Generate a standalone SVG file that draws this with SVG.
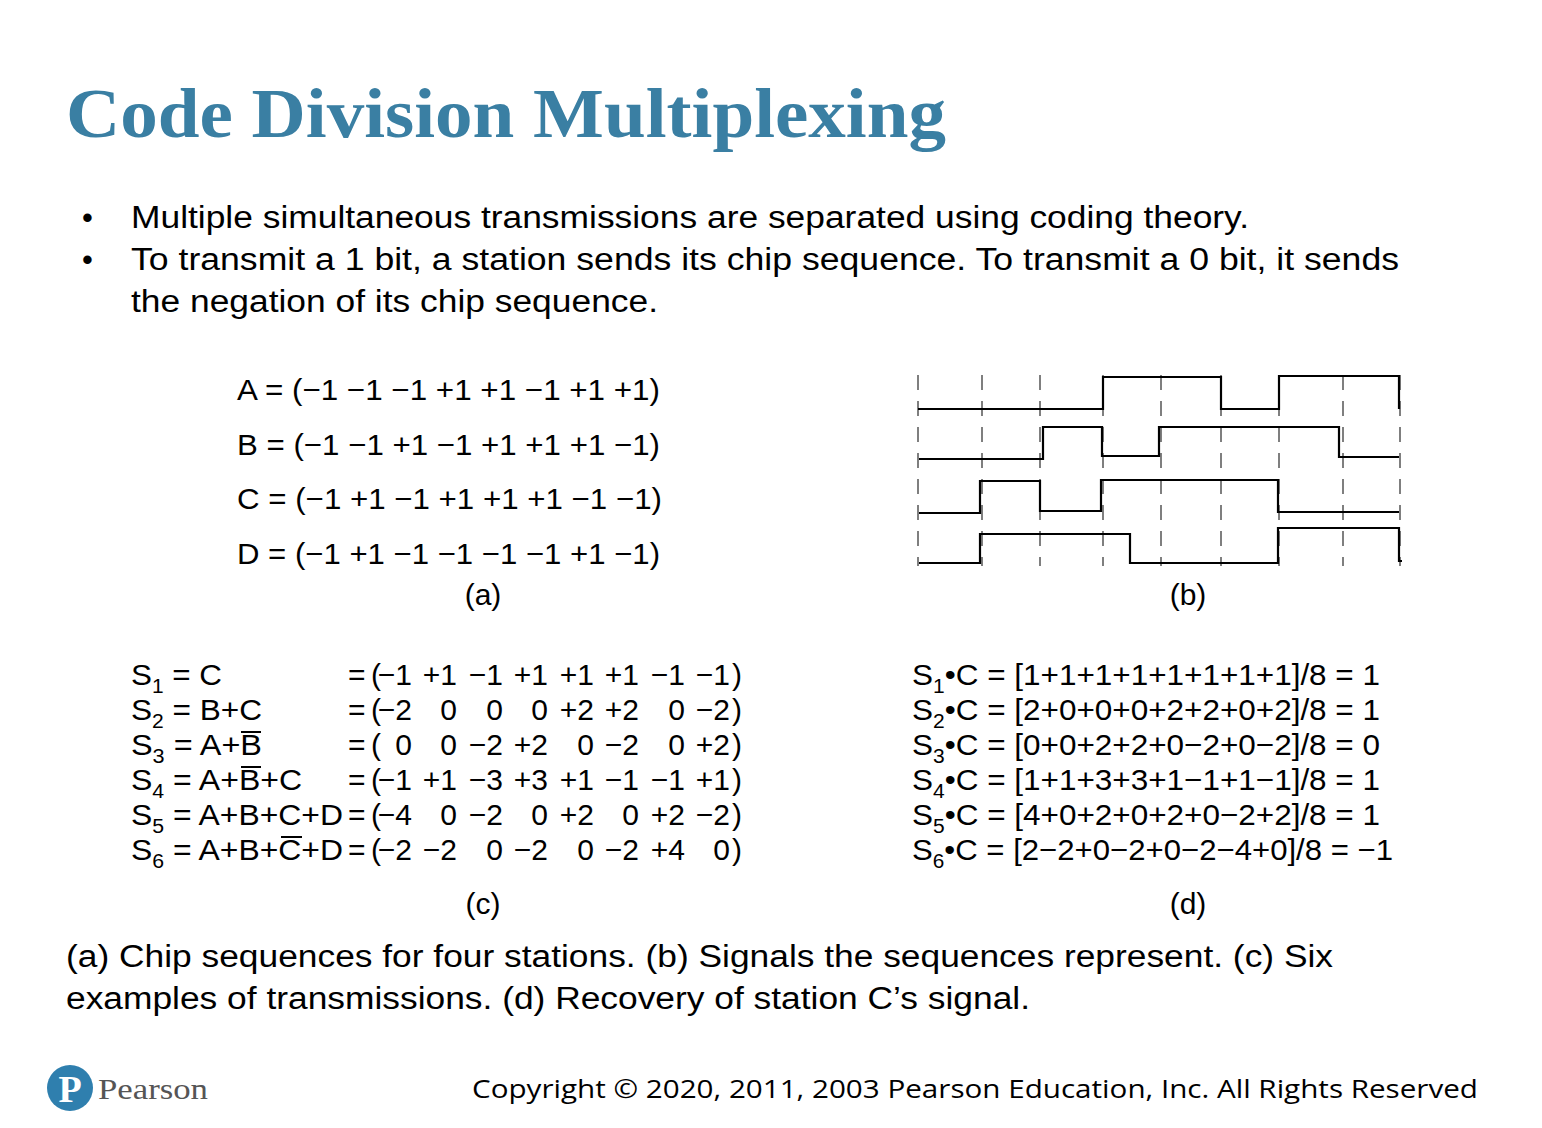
<svg xmlns="http://www.w3.org/2000/svg" width="1542" height="1128" viewBox="0 0 1542 1128">
<style>
.t{font-family:"Liberation Sans",Arial,sans-serif;fill:#000}
.b{font-size:31px}
.e{font-size:30px}
.w{fill:none;stroke:#000;stroke-width:2.2}
.d{stroke:#555;stroke-width:1.5;stroke-dasharray:15 11}
.o{stroke:#000;stroke-width:2}
.v text{text-anchor:end}
</style>
<rect width="1542" height="1128" fill="#fff"/>
<text x="66" y="137" font-family="'Liberation Serif','Times New Roman',serif" font-weight="bold" font-size="70" fill="#3a7fa3" textLength="880" lengthAdjust="spacingAndGlyphs">Code Division Multiplexing</text>
<g id="bullets" class="t b">
<text x="82" y="228">•</text><text x="131" y="228" textLength="1118" lengthAdjust="spacingAndGlyphs">Multiple simultaneous transmissions are separated using coding theory.</text>
<text x="82" y="270">•</text><text x="131" y="270" textLength="1268" lengthAdjust="spacingAndGlyphs">To transmit a 1 bit, a station sends its chip sequence. To transmit a 0 bit, it sends</text>
<text x="131" y="312" textLength="527" lengthAdjust="spacingAndGlyphs">the negation of its chip sequence.</text>
</g>
<g id="a" class="t e">
<text x="237" y="400" textLength="423" lengthAdjust="spacingAndGlyphs">A = (−1 −1 −1 +1 +1 −1 +1 +1)</text>
<text x="237" y="455" textLength="423" lengthAdjust="spacingAndGlyphs">B = (−1 −1 +1 −1 +1 +1 +1 −1)</text>
<text x="237" y="509" textLength="425" lengthAdjust="spacingAndGlyphs">C = (−1 +1 −1 +1 +1 +1 −1 −1)</text>
<text x="237" y="564" textLength="423" lengthAdjust="spacingAndGlyphs">D = (−1 +1 −1 −1 −1 −1 +1 −1)</text>
<text x="483" y="605" text-anchor="middle">(a)</text>
</g>
<g id="b">
<g class="d">
<line x1="918" y1="375" x2="918" y2="566"/><line x1="982" y1="375" x2="982" y2="566"/>
<line x1="1040" y1="375" x2="1040" y2="566"/><line x1="1103" y1="375" x2="1103" y2="566"/>
<line x1="1161" y1="375" x2="1161" y2="566"/><line x1="1221" y1="375" x2="1221" y2="566"/>
<line x1="1279" y1="375" x2="1279" y2="566"/><line x1="1343" y1="375" x2="1343" y2="566"/>
<line x1="1400" y1="375" x2="1400" y2="566"/>
</g>
<polyline class="w" points="918,409 1103,409 1103,377 1221,377 1221,409 1279,409 1279,376 1399,376 1399,409"/>
<polyline class="w" points="919,459 1043,459 1043,427 1102,427 1102,456 1159,456 1159,427 1339,427 1339,457 1399,457"/>
<polyline class="w" points="919,513 980,513 980,481 1040,481 1040,511 1101,511 1101,480 1278,480 1278,512 1399,512"/>
<polyline class="w" points="919,563 980,563 980,534 1130,534 1130,563 1278,563 1278,528 1399,528 1399,561 1402,561"/>
<text class="t e" x="1188" y="605" text-anchor="middle">(b)</text>
</g>
<g id="c" class="t e">
<text x="131" y="685" textLength="91" lengthAdjust="spacingAndGlyphs">S<tspan font-size="20" dy="8">1</tspan><tspan dy="-8"> = C</tspan></text>
<text x="131" y="720" textLength="131" lengthAdjust="spacingAndGlyphs">S<tspan font-size="20" dy="8">2</tspan><tspan dy="-8"> = B+C</tspan></text>
<text x="131" y="755" textLength="131" lengthAdjust="spacingAndGlyphs">S<tspan font-size="20" dy="8">3</tspan><tspan dy="-8"> = A+B</tspan></text>
<text x="131" y="790" textLength="171" lengthAdjust="spacingAndGlyphs">S<tspan font-size="20" dy="8">4</tspan><tspan dy="-8"> = A+B+C</tspan></text>
<text x="131" y="825" textLength="212" lengthAdjust="spacingAndGlyphs">S<tspan font-size="20" dy="8">5</tspan><tspan dy="-8"> = A+B+C+D</tspan></text>
<text x="131" y="860" textLength="212" lengthAdjust="spacingAndGlyphs">S<tspan font-size="20" dy="8">6</tspan><tspan dy="-8"> = A+B+C+D</tspan></text>
<g id="paren">
<text y="685"><tspan x="348">=</tspan><tspan x="371">(</tspan></text>
<text y="720"><tspan x="348">=</tspan><tspan x="371">(</tspan></text>
<text y="755"><tspan x="348">=</tspan><tspan x="371">(</tspan></text>
<text y="790"><tspan x="348">=</tspan><tspan x="371">(</tspan></text>
<text y="825"><tspan x="348">=</tspan><tspan x="371">(</tspan></text>
<text y="860"><tspan x="348">=</tspan><tspan x="371">(</tspan></text>
<text x="732" y="685">)</text><text x="732" y="720">)</text><text x="732" y="755">)</text>
<text x="732" y="790">)</text><text x="732" y="825">)</text><text x="732" y="860">)</text>
</g>
<g class="v">
<text y="685"><tspan x="412">−1</tspan><tspan x="457">+1</tspan><tspan x="503">−1</tspan><tspan x="548">+1</tspan><tspan x="594">+1</tspan><tspan x="639">+1</tspan><tspan x="685">−1</tspan><tspan x="730">−1</tspan></text>
<text y="720"><tspan x="412">−2</tspan><tspan x="457">0</tspan><tspan x="503">0</tspan><tspan x="548">0</tspan><tspan x="594">+2</tspan><tspan x="639">+2</tspan><tspan x="685">0</tspan><tspan x="730">−2</tspan></text>
<text y="755"><tspan x="412">0</tspan><tspan x="457">0</tspan><tspan x="503">−2</tspan><tspan x="548">+2</tspan><tspan x="594">0</tspan><tspan x="639">−2</tspan><tspan x="685">0</tspan><tspan x="730">+2</tspan></text>
<text y="790"><tspan x="412">−1</tspan><tspan x="457">+1</tspan><tspan x="503">−3</tspan><tspan x="548">+3</tspan><tspan x="594">+1</tspan><tspan x="639">−1</tspan><tspan x="685">−1</tspan><tspan x="730">+1</tspan></text>
<text y="825"><tspan x="412">−4</tspan><tspan x="457">0</tspan><tspan x="503">−2</tspan><tspan x="548">0</tspan><tspan x="594">+2</tspan><tspan x="639">0</tspan><tspan x="685">+2</tspan><tspan x="730">−2</tspan></text>
<text y="860"><tspan x="412">−2</tspan><tspan x="457">−2</tspan><tspan x="503">0</tspan><tspan x="548">−2</tspan><tspan x="594">0</tspan><tspan x="639">−2</tspan><tspan x="685">+4</tspan><tspan x="730">0</tspan></text>
</g>
<line class="o" x1="241" y1="732" x2="261" y2="732"/>
<line class="o" x1="241" y1="767" x2="261" y2="767"/>
<line class="o" x1="281" y1="837" x2="302" y2="837"/>
<text x="483" y="914" text-anchor="middle">(c)</text>
</g>
<g id="d" class="t e">
<text x="912" y="685" textLength="468" lengthAdjust="spacingAndGlyphs">S<tspan font-size="20" dy="8">1</tspan><tspan dy="-8">•C = [1+1+1+1+1+1+1+1]/8 = 1</tspan></text>
<text x="912" y="720" textLength="468" lengthAdjust="spacingAndGlyphs">S<tspan font-size="20" dy="8">2</tspan><tspan dy="-8">•C = [2+0+0+0+2+2+0+2]/8 = 1</tspan></text>
<text x="912" y="755" textLength="468" lengthAdjust="spacingAndGlyphs">S<tspan font-size="20" dy="8">3</tspan><tspan dy="-8">•C = [0+0+2+2+0−2+0−2]/8 = 0</tspan></text>
<text x="912" y="790" textLength="468" lengthAdjust="spacingAndGlyphs">S<tspan font-size="20" dy="8">4</tspan><tspan dy="-8">•C = [1+1+3+3+1−1+1−1]/8 = 1</tspan></text>
<text x="912" y="825" textLength="468" lengthAdjust="spacingAndGlyphs">S<tspan font-size="20" dy="8">5</tspan><tspan dy="-8">•C = [4+0+2+0+2+0−2+2]/8 = 1</tspan></text>
<text x="912" y="860" textLength="481" lengthAdjust="spacingAndGlyphs">S<tspan font-size="20" dy="8">6</tspan><tspan dy="-8">•C = [2−2+0−2+0−2−4+0]/8 = −1</tspan></text>
<text x="1188" y="914" text-anchor="middle">(d)</text>
</g>
<g id="caption" class="t b">
<text x="66" y="967" textLength="1267" lengthAdjust="spacingAndGlyphs">(a) Chip sequences for four stations. (b) Signals the sequences represent. (c) Six</text>
<text x="66" y="1009" textLength="964" lengthAdjust="spacingAndGlyphs">examples of transmissions. (d) Recovery of station C’s signal.</text>
</g>
<g id="logo">
<circle cx="70" cy="1088" r="23" fill="#2f7fae"/>
<text x="70" y="1102" text-anchor="middle" font-family="'Liberation Serif',serif" font-weight="bold" font-size="38" fill="#fff">P</text>
<text x="98" y="1099" font-family="'Liberation Serif',serif" font-size="30" fill="#555" textLength="110" lengthAdjust="spacingAndGlyphs">Pearson</text>
</g>
<text x="472" y="1098" font-family="'Open Sans',sans-serif" font-size="25" fill="#000" textLength="1006" lengthAdjust="spacingAndGlyphs">Copyright © 2020, 2011, 2003 Pearson Education, Inc. All Rights Reserved</text>
</svg>
